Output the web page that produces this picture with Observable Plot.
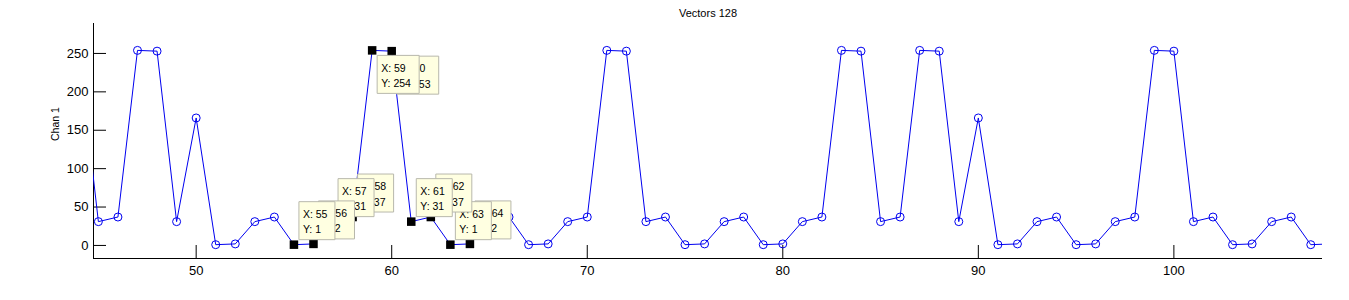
<!DOCTYPE html>
<html>
<head>
<meta charset="utf-8">
<script src="https://cdn.jsdelivr.net/npm/d3@7"></script>
<script src="https://cdn.jsdelivr.net/npm/@observablehq/plot@0.6"></script>
<style>
  html, body { margin: 0; padding: 0; background: #ffffff; }
</style>
</head>
<body>
<div id="chart"></div>
<script>
// ---- data ----
const title = "Vectors 128";
const yLabel = "Chan 1";
const xs = [44,
  45,46,47,48,49,50,51,52,53,54,
  55,56,57,58,59,60,61,62,63,64,
  65,66,67,68,69,70,71,72,73,74,
  75,76,77,78,79,80,81,82,83,84,
  85,86,87,88,89,90,91,92,93,94,
  95,96,97,98,99,100,101,102,103,104,
  105,106,107,108];
const chan1 = [253,
  31,37,254,253,31,166,1,2,31,37,
  1,2,31,37,254,253,31,37,1,2,
  31,37,1,2,31,37,254,253,31,37,
  1,2,31,37,1,2,31,37,254,253,
  31,37,254,253,31,166,1,2,31,37,
  1,2,31,37,254,253,31,37,1,2,
  31,37,1,2];
const dataTipXs = [55,56,57,58,59,60,61,62,63,64];
const xTicks = [50,60,70,80,90,100];
const yTicks = [0,50,100,150,200,250];
const xDomain = [44.75, 107.6];
const yDomain = [-17, 289];

// ---- layout / style ----
const W = 1349, H = 300;
const mL = 93, mR = 27, mT = 23, mB = 42;
const innerW = W - mL - mR, innerH = H - mT - mB;
const font = "'Liberation Sans', Arial, Helvetica, sans-serif";
const lineColor = "#0000f0";
const tickLen = 13;

const data = xs.map((x, i) => ({x, y: chan1[i]}));
const tipPts = data.filter(d => dataTipXs.includes(d.x));
const plainPts = data.filter(d => !dataTipXs.includes(d.x));

function boxSymbol(w, down) {
  return {draw(ctx) { ctx.rect(5, down ? 5 : -43, w, 38); }};
}

// tips drawn from highest x to lowest so lower ones sit on top
const tipMarks = tipPts.slice().reverse().flatMap(d => {
  const down = d.y > 200;
  const chars = Math.max(String(d.x).length, String(d.y).length) + 3;
  const w = 6 * chars + 6;
  const label = `X: ${d.x}\nY: ${d.y}`;
  return [
    Plot.dot([d], {x: "x", y: "y", r: 5, symbol: boxSymbol(w, down),
      fill: "#ffffe1", stroke: "#b8b8ac", strokeWidth: 1}),
    Plot.text([d], {x: "x", y: "y", text: () => label, dx: 9, dy: down ? 24 : -24,
      textAnchor: "start", lineAnchor: "middle", lineHeight: 1.45,
      fontSize: 10.5, fill: "#000000", fontFamily: font})
  ];
});

const chart = Plot.plot({
  width: W, height: H,
  marginLeft: mL, marginRight: mR, marginTop: mT, marginBottom: mB,
  style: {background: "#ffffff", fontFamily: font, fontSize: "13px", color: "#000", overflow: "visible"},
  x: {domain: xDomain},
  y: {domain: yDomain},
  marks: [
    // axis lines (left and bottom only)
    Plot.ruleY([yDomain[0]], {stroke: "#000", strokeWidth: 1}),
    Plot.ruleX([xDomain[0]], {stroke: "#000", strokeWidth: 1}),
    // inward tick marks
    Plot.tickX(xTicks, {x: d => d, stroke: "#000", insetTop: innerH - tickLen}),
    Plot.tickY(yTicks, {y: d => d, stroke: "#000", insetRight: innerW - tickLen}),
    // tick labels
    Plot.axisX(xTicks, {tickSize: 0, tickPadding: 7, label: null, fontSize: 13, fill: "#000"}),
    Plot.axisY(yTicks, {tickSize: 0, tickPadding: 5, label: null, fontSize: 13, fill: "#000"}),
    // series
    Plot.line(data, {x: "x", y: "y", stroke: lineColor, strokeWidth: 1, clip: true}),
    Plot.dot(plainPts, {x: "x", y: "y", r: 4, stroke: lineColor, strokeWidth: 1, fill: "none", clip: true}),
    Plot.dot(tipPts, {x: "x", y: "y", r: 4.8, symbol: "square", fill: "#000", stroke: "none"}),
    ...tipMarks,
    // title and y label
    Plot.text([title], {text: d => d, frameAnchor: "top", dy: -14, fontSize: 11, fill: "#000"}),
    Plot.text([yLabel], {text: d => d, frameAnchor: "left", dx: -38, rotate: -90, fontSize: 10.5, fill: "#000"})
  ]
});
document.getElementById("chart").appendChild(chart);
</script>
</body>
</html>
